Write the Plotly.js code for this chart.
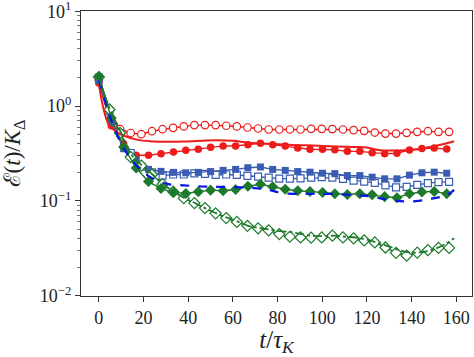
<!DOCTYPE html>
<html>
<head>
<meta charset="utf-8">
<script src="https://cdn.plot.ly/plotly-3.0.1.min.js"></script>
<style>html,body{margin:0;padding:0;background:#fff}#plot{width:474px;height:357px}</style>
</head>
<body>
<div id="plot"></div>
<script>
// sample times (t / tau_K)
const tOpen = [0,4.75,9.5,14.25,19,23.75,28.5,33.25,38,42.75,47.5,52.25,57,61.75,66.5,71.25,76,80.75,85.5,90.25,95,99.75,104.5,109.25,114,118.75,123.5,128.25,133,137.75,142.5,147.25,152,156.75];
const tFilled = [0,5.56,11.1,16.7,22.2,27.8,33.4,38.9,44.5,50,55.6,61.2,66.7,72.3,77.8,83.4,89,94.5,100.1,105.6,111.2,116.8,122.3,127.9,133.4,139,144.6,150.1,155.7];

// red open circles
const redOpen = [1.89,0.92,0.57,0.52,0.505,0.543,0.57,0.59,0.61,0.63,0.63,0.63,0.62,0.61,0.594,0.58,0.566,0.566,0.566,0.566,0.575,0.575,0.572,0.566,0.557,0.548,0.526,0.513,0.513,0.522,0.535,0.543,0.535,0.535];
// red filled circles
const redFilled = [1.75,0.62,0.40,0.303,0.303,0.315,0.328,0.342,0.35,0.368,0.38,0.38,0.392,0.405,0.392,0.38,0.362,0.35,0.35,0.346,0.333,0.333,0.323,0.315,0.318,0.345,0.356,0.362,0.352];
// red solid line
const tRedLine = [0,4.5,8,11,17,23,30,38,46,52,60,67,77,85,92,100,107,115,120,125,131,137,143,148,154,159];
const redLine = [1.67,0.63,0.535,0.49,0.443,0.425,0.42,0.422,0.43,0.436,0.43,0.41,0.40,0.39,0.386,0.38,0.375,0.371,0.365,0.345,0.34,0.342,0.35,0.37,0.395,0.425];

// blue filled squares
const blueFilled = [1.85,0.68,0.355,0.27,0.215,0.205,0.2,0.198,0.2,0.204,0.21,0.215,0.224,0.228,0.215,0.21,0.204,0.201,0.196,0.194,0.185,0.185,0.178,0.171,0.171,0.187,0.198,0.201,0.196];
// blue open squares
const blueOpen = [2.0,0.88,0.52,0.32,0.23,0.20,0.185,0.19,0.19,0.195,0.193,0.188,0.19,0.188,0.184,0.18,0.176,0.172,0.172,0.173,0.176,0.178,0.176,0.171,0.164,0.16,0.155,0.146,0.139,0.141,0.148,0.154,0.158,0.159];
// blue dashed line
const tBlueLine = [0,5,10,16,23,30,38,46,52,60,67,73,77,83,92,100,107,113,118,123,127,132,137,143,148,152,155.5,159];
const blueLine = [1.89,0.77,0.40,0.247,0.178,0.152,0.146,0.142,0.141,0.14,0.138,0.134,0.129,0.12,0.119,0.119,0.118,0.116,0.114,0.11,0.105,0.101,0.099,0.1,0.105,0.109,0.114,0.131];

// green filled diamonds
const greenFilled = [2.05,0.75,0.37,0.222,0.16,0.135,0.123,0.12,0.125,0.13,0.128,0.132,0.143,0.15,0.141,0.133,0.128,0.126,0.123,0.119,0.117,0.119,0.116,0.111,0.108,0.119,0.124,0.126,0.119];
// green open diamonds
const greenOpen = [2.02,0.92,0.52,0.29,0.235,0.19,0.15,0.125,0.107,0.095,0.084,0.074,0.066,0.060,0.0547,0.0515,0.049,0.0447,0.042,0.0412,0.041,0.0412,0.043,0.0412,0.0404,0.0383,0.0365,0.0323,0.0284,0.0265,0.0285,0.0303,0.032,0.032];
// green dash-dot line
const tGreenLine = [0,4.75,9.5,14,19,24,28.5,33,38,43,47.5,52,57,62,66.5,71,76,81,86,90,95,100,105,110,115,120,125,130,135,140,145,150,155,159];
const greenLine = [2.0,0.95,0.55,0.32,0.24,0.19,0.152,0.128,0.108,0.095,0.084,0.075,0.067,0.061,0.055,0.052,0.05,0.048,0.047,0.045,0.043,0.0425,0.043,0.042,0.041,0.039,0.036,0.033,0.03,0.0285,0.029,0.031,0.035,0.0405];

// y tick labels
const yTickVals = [0.01,0.1,1,10];
const yTickText = ['10<sup>−2</sup>','10<sup>−1</sup>','10<sup>0</sup>','10<sup>1</sup>'];
const yMinorVals = [0.02,0.03,0.04,0.05,0.06,0.07,0.08,0.09,0.2,0.3,0.4,0.5,0.6,0.7,0.8,0.9,2,3,4,5,6,7,8,9];

const RED = '#ee1b1b', SQ = '#3a5db3', BL = '#0a14e6', GR = '#1d7a2c';

const traces = [
  {x:tOpen, y:redOpen, mode:'lines+markers', line:{color:RED,width:1.4},
   marker:{symbol:'circle',size:7.5,color:'#fff',line:{color:RED,width:1.2}}},
  {x:tFilled, y:redFilled, mode:'lines+markers', line:{color:RED,width:1.4},
   marker:{symbol:'circle',size:7.5,color:RED}},
  {x:tOpen, y:blueOpen, mode:'lines+markers', line:{color:SQ,width:1.4},
   marker:{symbol:'square',size:7,color:'#fff',line:{color:SQ,width:1.2}}},
  {x:tFilled, y:blueFilled, mode:'lines+markers', line:{color:SQ,width:1.4},
   marker:{symbol:'square',size:7,color:SQ}},
  {x:tOpen, y:greenOpen, mode:'lines+markers', line:{color:GR,width:1.4},
   marker:{symbol:'diamond',size:8.5,color:'#fff',line:{color:GR,width:1.2}}},
  {x:tFilled, y:greenFilled, mode:'lines+markers', line:{color:GR,width:1.4},
   marker:{symbol:'diamond',size:8.5,color:GR}},
  {x:tRedLine, y:redLine, mode:'lines', line:{color:RED,width:2,shape:'spline'}},
  {x:tBlueLine, y:blueLine, mode:'lines', line:{color:BL,width:2.2,dash:'dash',shape:'spline'}},
  {x:tGreenLine, y:greenLine, mode:'lines', line:{color:GR,width:1.8,dash:'dashdot',shape:'spline'}}
];

const serif = '"Liberation Serif", "DejaVu Serif", serif';
const layout = {
  width:474, height:357,
  margin:{l:81, r:2, t:11, b:61},
  paper_bgcolor:'#fff', plot_bgcolor:'#fff',
  showlegend:false,
  font:{family:serif, color:'#222', size:18},
  xaxis:{
    range:[-8,167], tickmode:'linear', tick0:0, dtick:20,
    ticks:'outside', ticklen:5, tickwidth:1, tickcolor:'#333',
    showline:true, linecolor:'#333', linewidth:1.2, mirror:true,
    showgrid:false, zeroline:false,
    tickfont:{family:serif, size:18, color:'#222'},
    title:{text:'<i>t</i>/<i>τ</i><sub><i>K</i></sub>', font:{family:serif, size:25, color:'#222'}, standoff:4}
  },
  yaxis:{
    type:'log', range:[-2.002,1.002],
    tickmode:'array', tickvals:yTickVals, ticktext:yTickText,
    ticklabeloverflow:'allow',
    ticks:'outside', ticklen:5, tickwidth:1, tickcolor:'#333',
    minor:{tickmode:'array', tickvals:yMinorVals, ticks:'outside', ticklen:3, tickwidth:0.8, tickcolor:'#555', showgrid:false},
    showline:true, linecolor:'#333', linewidth:1.2, mirror:true,
    showgrid:false, zeroline:false,
    tickfont:{family:serif, size:18, color:'#222'},
    title:{text:'ℰ(<i>t</i>)/<i>K</i><sub>Δ</sub>', font:{family:serif, size:23, color:'#222'}, standoff:14}
  }
};

Plotly.newPlot('plot', traces, layout, {staticPlot:true, displayModeBar:false});
</script>
</body>
</html>
